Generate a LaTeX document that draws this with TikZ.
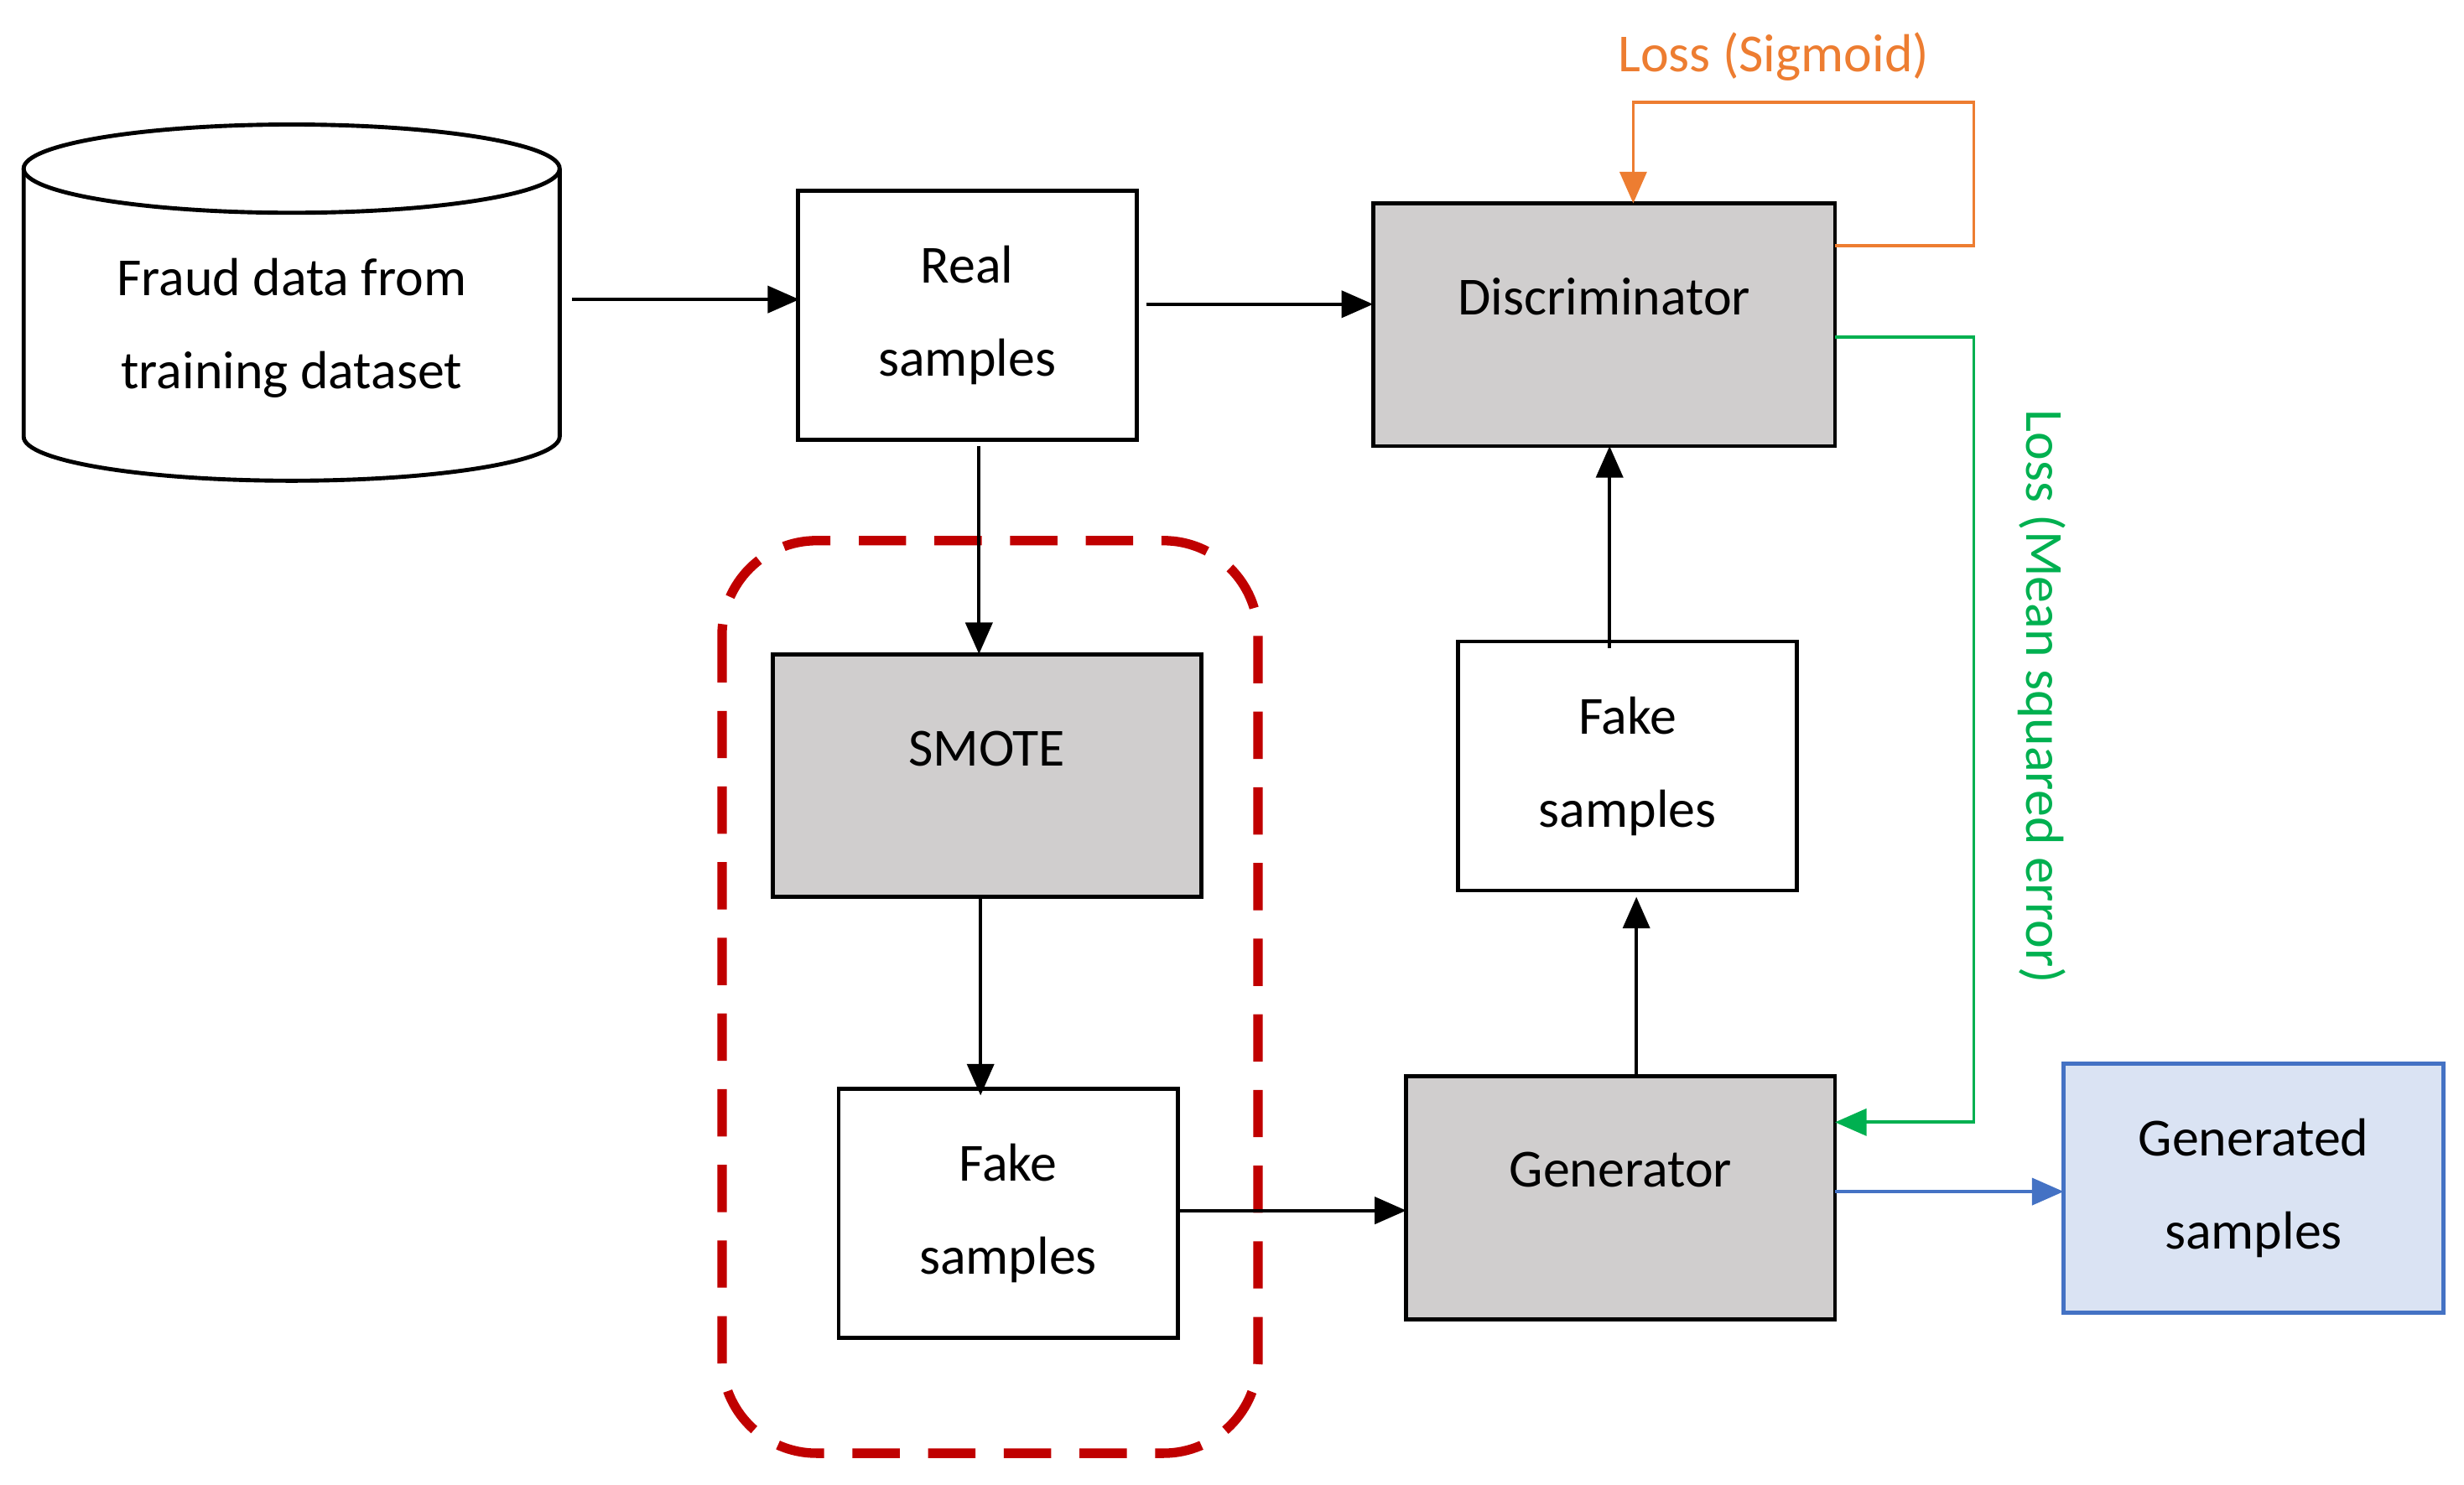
\documentclass[tikz,border=0pt]{standalone}
\usepackage{fontspec}
\setmainfont{Carlito}
\usetikzlibrary{arrows.meta}
\definecolor{boxgray}{RGB}{208,206,206}
\definecolor{lossorange}{RGB}{237,125,49}
\definecolor{lossgreen}{RGB}{0,176,80}
\definecolor{genblue}{RGB}{68,114,196}
\definecolor{genfill}{RGB}{218,227,243}
\definecolor{dashred}{RGB}{192,0,0}
\begin{document}
\begin{tikzpicture}[x=1pt,y=-1pt,
  txt/.style={font=\fontsize{34}{59}\selectfont, align=center},
  box/.style={draw, line width=2.6pt, inner sep=0pt},
  arr/.style={-{Triangle[length=20pt,width=17pt]}, line width=2.2pt}]
\useasboundingbox (0,0) rectangle (1563,942);
% cylinder
\draw[line width=2.6pt] (15,107) -- (15,277) arc[start angle=180,end angle=0,x radius=170,y radius=28] -- (355,107);
\draw[line width=2.6pt] (185,107) ellipse[x radius=170,y radius=28];
\node[txt] (data) at (185,208) {Fraud data from\\training dataset};
\coordinate (dataR) at (363,190);
% boxes
\node[box, minimum width=215pt, minimum height=158pt, txt] (real) at (613.5,200) {Real\\samples};
\node[box, fill=boxgray, minimum width=293pt, minimum height=154pt] (disc) at (1017.5,206) {};
\node[txt] at (1017.5,188) {Discriminator};
\node[box, fill=boxgray, minimum width=272pt, minimum height=154pt] (smote) at (626,492) {};
\node[txt] at (626,475) {SMOTE};
\node[box, minimum width=215pt, minimum height=158pt, txt] (fakeL) at (639.5,770) {Fake\\samples};
\node[box, minimum width=215pt, minimum height=158pt, txt] (fakeM) at (1032.5,486) {Fake\\samples};
\node[box, fill=boxgray, minimum width=272pt, minimum height=154pt] (gen) at (1028,760) {};
\node[txt] at (1028,742) {Generator};
\node[box, draw=genblue, fill=genfill, minimum width=241pt, minimum height=158pt, txt] (gs) at (1429.5,754) {Generated\\samples};
% dashed region
\draw[dashred, line width=6pt, dash pattern=on 30pt off 18pt, rounded corners=60pt] (458,343) rectangle (798,922);
% arrows
\draw[arr] (dataR) -- (507,190);
\draw[arr] (727,193) -- (871,193);
\draw[arr] (621,283) -- (621,415);
\draw[arr] (622,569) -- (622,695);
\draw[arr] (747,768) -- (892,768);
\draw[arr] (1038,683) -- (1038,569);
\draw[arr] (1021,411) -- (1021,283);
\draw[arr, draw=genblue, fill=genblue] (1164,756) -- (1309,756);
% orange loss
\draw[lossorange, line width=2pt, -{Triangle[length=20pt,width=17pt]}] (1164,156) -- (1252,156) -- (1252,65) -- (1036,65) -- (1036,129);
\node[txt, text=lossorange] (ls) at (1125,36) {Loss (Sigmoid)};
% green loss
\draw[lossgreen, line width=2pt, -{Triangle[length=20pt,width=17pt]}] (1164,214) -- (1252,214) -- (1252,712) -- (1164,712);
\node[txt, text=lossgreen, rotate=-90] (lm) at (1295,442) {Loss (Mean squared error)};
\end{tikzpicture}
\end{document}
